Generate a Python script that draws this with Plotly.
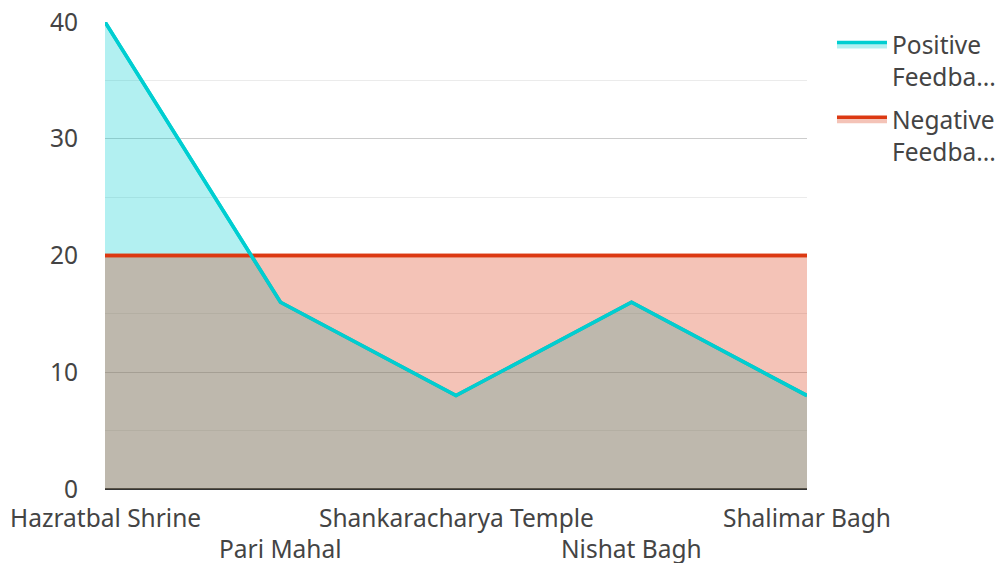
import plotly.graph_objects as go

categories = ["Hazratbal Shrine", "Pari Mahal", "Shankaracharya Temple", "Nishat Bagh", "Shalimar Bagh"]
positive = [40, 16, 8, 16, 8]
negative = [20, 20, 20, 20, 20]
series_names = ["Positive<br>Feedba...", "Negative<br>Feedba..."]
y_ticks = [0, 10, 20, 30, 40]

xs = list(range(len(categories)))
FONT = "Noto Sans"
TXT = "#444444"
POS_C = "#00CED1"
NEG_C = "#DC3912"
FS = 24.5

fig = go.Figure()
# filled areas (with legend entries)
fig.add_trace(go.Scatter(
    x=xs, y=positive, name=series_names[0], mode="lines", legendgroup="p",
    line=dict(color=POS_C, width=3.5), fill="tozeroy",
    fillcolor="rgba(0,206,209,0.3)"))
fig.add_trace(go.Scatter(
    x=xs, y=negative, name=series_names[1], mode="lines", legendgroup="n",
    line=dict(color=NEG_C, width=3.5), fill="tozeroy",
    fillcolor="rgba(220,57,18,0.3)"))
# lines redrawn on top of fills
fig.add_trace(go.Scatter(
    x=xs, y=negative, mode="lines", showlegend=False, hoverinfo="skip",
    legendgroup="n", line=dict(color=NEG_C, width=3.5)))
fig.add_trace(go.Scatter(
    x=xs, y=positive, mode="lines", showlegend=False, hoverinfo="skip",
    legendgroup="p", line=dict(color=POS_C, width=3.5)))

for i, c in enumerate(categories):
    fig.add_annotation(x=xs[i], y=0, yref="paper", text=c, showarrow=False,
                       xanchor="center", yanchor="middle",
                       yshift=-28 if i % 2 == 0 else -59,
                       font=dict(family=FONT, size=FS, color=TXT))

fig.update_layout(
    width=999, height=563,
    margin=dict(l=105, r=192, t=22, b=74, autoexpand=False),
    paper_bgcolor="white", plot_bgcolor="white",
    font=dict(family=FONT, size=FS, color=TXT),
    showlegend=True,
    legend=dict(x=1.0356, xanchor="left", y=1.0, yanchor="top",
                font=dict(family=FONT, size=FS, color=TXT),
                itemwidth=50, bgcolor="rgba(0,0,0,0)", valign="top",
                traceorder="grouped", tracegroupgap=8),
    xaxis=dict(range=[0, len(categories) - 1], showticklabels=False,
               showgrid=False, zeroline=False, showline=False, fixedrange=True),
    yaxis=dict(range=[0, 40], tickvals=y_ticks, showgrid=True,
               gridcolor="#cccccc", gridwidth=1, zeroline=True,
               zerolinecolor="#333333", zerolinewidth=2, automargin=False,
               minor=dict(dtick=5, showgrid=True, gridcolor="#ebebeb"),
               ticks="", ticklabelstandoff=26, showline=False,
               tickfont=dict(family=FONT, size=FS, color=TXT)),
)

fig.write_html("out.html", config={"displayModeBar": False},
               post_script="document.body.style.margin='0';")
